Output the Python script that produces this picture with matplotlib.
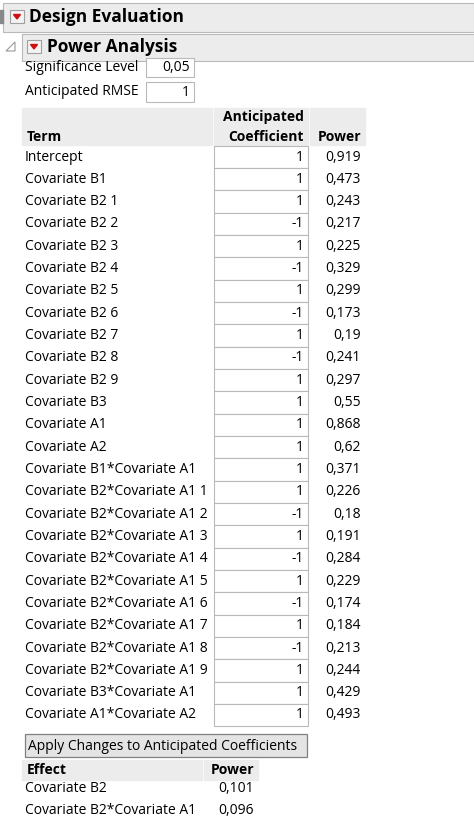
import matplotlib
matplotlib.use("Agg")
import matplotlib.pyplot as plt
from matplotlib.patches import Rectangle, Polygon

plt.rcParams["font.family"] = ["Open Sans", "DejaVu Sans"]

# ── data ──────────────────────────────────────────────
terms = (["Intercept", "Covariate B1"]
         + [f"Covariate B2 {i}" for i in range(1, 10)]
         + ["Covariate B3", "Covariate A1", "Covariate A2", "Covariate B1*Covariate A1"]
         + [f"Covariate B2*Covariate A1 {i}" for i in range(1, 10)]
         + ["Covariate B3*Covariate A1", "Covariate A1*Covariate A2"])
coefs = [1, 1, 1, -1, 1, -1, 1, -1, 1, -1, 1, 1, 1, 1,
         1, 1, -1, 1, -1, 1, -1, 1, -1, 1, 1, 1]
powers = ["0,919", "0,473", "0,243", "0,217", "0,225", "0,329", "0,299", "0,173",
          "0,19", "0,241", "0,297", "0,55", "0,868", "0,62", "0,371", "0,226",
          "0,18", "0,191", "0,284", "0,229", "0,174", "0,184", "0,213", "0,244",
          "0,429", "0,493"]
effects = ["Covariate B2", "Covariate B2*Covariate A1"]
effect_power = ["0,101", "0,096"]
sig_level = "0,05"
rmse = "1"

W, H = 474, 824
fig = plt.figure(figsize=(W / 100, H / 100), dpi=100)
ax = fig.add_axes([0, 0, 1, 1])
ax.set_xlim(0, W)
ax.set_ylim(H, 0)
ax.axis("off")
fig.patch.set_facecolor("white")

FS = 10
BAR = "#ececec"
EDGE = "#b9b9b9"


def red_button(x, y):
    ax.add_patch(Rectangle((x, y), 14, 13, facecolor="#f4f4f4", edgecolor="#a0a0a0", lw=0.8))
    ax.add_patch(Polygon([(x + 3.5, y + 4.5), (x + 10.5, y + 4.5), (x + 7, y + 9)],
                         closed=True, color="#d01010"))


# title bars
ax.add_patch(Rectangle((3, 3), 471, 29, facecolor=BAR, edgecolor=EDGE, lw=0.8))
ax.add_patch(Rectangle((0, 10), 3, 13, color="#888888"))
red_button(10, 10)
ax.text(29, 17, "Design Evaluation", fontsize=12.5, fontweight="bold", va="center")
ax.add_patch(Rectangle((22, 34), 452, 27, facecolor=BAR, edgecolor=EDGE, lw=0.8))
ax.add_patch(Polygon([(6, 51), (15, 42), (15, 51)], closed=True, fill=False,
                     edgecolor="#999999", lw=0.8))
red_button(27, 40)
ax.text(47, 47, "Power Analysis", fontsize=12.5, fontweight="bold", va="center")

# parameters
ax.text(25, 67, "Significance Level", fontsize=FS, va="center")
ax.add_patch(Rectangle((146, 58), 48, 19, facecolor="white", edgecolor=EDGE, lw=0.8))
ax.text(190, 67, sig_level, fontsize=FS, va="center", ha="right")
ax.text(25, 91, "Anticipated RMSE", fontsize=FS, va="center")
ax.add_patch(Rectangle((146, 82), 48, 20, facecolor="white", edgecolor=EDGE, lw=0.8))
ax.text(190, 92, rmse, fontsize=FS, va="center", ha="right")

# table header
ax.add_patch(Rectangle((22, 108), 190, 37, color=BAR))
ax.add_patch(Rectangle((214, 108), 94, 37, color=BAR))
ax.add_patch(Rectangle((310, 108), 55, 37, color=BAR))
ax.text(27, 137, "Term", fontsize=FS, fontweight="bold", va="center")
ax.text(304, 117, "Anticipated", fontsize=FS, fontweight="bold", va="center", ha="right")
ax.text(304, 137, "Coefficient", fontsize=FS, fontweight="bold", va="center", ha="right")
ax.text(361, 137, "Power", fontsize=FS, fontweight="bold", va="center", ha="right")

y0, dy = 157, (715 - 157) / 25
for i, (t, c, p) in enumerate(zip(terms, coefs, powers)):
    y = y0 + i * dy
    ax.text(25, y, t, fontsize=FS, va="center")
    ax.add_patch(Rectangle((214, y - dy / 2), 94, dy, facecolor="white", edgecolor=EDGE, lw=0.8))
    ax.text(304, y, str(c), fontsize=FS, va="center", ha="right")
    ax.text(361, y, p, fontsize=FS, va="center", ha="right")

# apply button
ax.add_patch(Rectangle((25, 734), 282, 23, facecolor="#e4e4e4", edgecolor="#808080", lw=0.9))
ax.text(28, 746, "Apply Changes to Anticipated Coefficients", fontsize=FS, va="center")

# effect table
ax.add_patch(Rectangle((22, 760), 180, 20, color=BAR))
ax.add_patch(Rectangle((204, 760), 54, 20, color=BAR))
ax.text(27, 770, "Effect", fontsize=FS, fontweight="bold", va="center")
ax.text(254, 770, "Power", fontsize=FS, fontweight="bold", va="center", ha="right")
for i, (e, p) in enumerate(zip(effects, effect_power)):
    y = 789 + i * 22
    ax.text(25, y, e, fontsize=FS, va="center")
    ax.text(254, y, p, fontsize=FS, va="center", ha="right")

fig.savefig("out.png", dpi=100)
